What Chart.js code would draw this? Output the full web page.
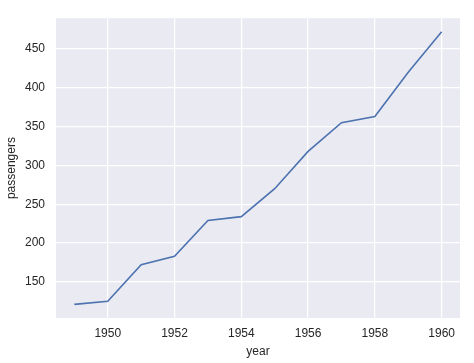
<!DOCTYPE html>
<html>
<head>
<meta charset="utf-8">
<script src="https://cdn.jsdelivr.net/npm/chart.js@4"></script>
<style>
  html, body { margin: 0; padding: 0; background: #fff; }
  #wrap { width: 474px; height: 363px; }
</style>
</head>
<body>
<div id="wrap"><canvas id="flightsChart"></canvas></div>
<script>
// flights dataset, May of each year
const years = [1949, 1950, 1951, 1952, 1953, 1954, 1955, 1956, 1957, 1958, 1959, 1960];
const passengers = [121, 125, 172, 183, 229, 234, 270, 318, 355, 363, 420, 472];
const xTicks = [1950, 1952, 1954, 1956, 1958, 1960];
const yTicks = [150, 200, 250, 300, 350, 400, 450];

const plotBg = {
    id: "plotBg",
    beforeDraw(chart){
        const a = chart.chartArea;
        const ctx = chart.ctx;
        ctx.save();
        ctx.fillStyle = "#EAEAF2";
        ctx.fillRect(a.left, a.top, a.right - a.left, a.bottom - a.top);
        ctx.restore();
    }
};

const font = { family: "'Liberation Sans', Arial, sans-serif", size: 12 };

new Chart(document.getElementById("flightsChart"), {
    type: "line",
    data: {
        datasets: [{
            label: "passengers",
            data: years.map((y, i) => ({ x: y, y: passengers[i] })),
            borderColor: "#4C72B0",
            borderWidth: 1.6,
            pointRadius: 0,
            tension: 0,
            fill: false
        }]
    },
    options: {
        responsive: true,
        maintainAspectRatio: false,
        animation: false,
        layout: { padding: { top: 17, right: 14, left: 0, bottom: 0 } },
        plugins: { legend: { display: false }, tooltip: { enabled: false } },
        scales: {
            x: {
                type: "linear",
                min: 1948.45,
                max: 1960.55,
                afterBuildTicks: s => { s.ticks = xTicks.map(v => ({ value: v })); },
                afterFit: s => { s.height = 45; },
                grid: { color: "#ffffff", lineWidth: 1.2, drawTicks: false },
                border: { display: false },
                ticks: { color: "#262626", font: font, padding: 8, maxRotation: 0,
                         callback: v => String(v) },
                title: { display: true, text: "year", color: "#262626", font: font, padding: { top: 0 } }
            },
            y: {
                min: 103.45,
                max: 489.55,
                afterBuildTicks: s => { s.ticks = yTicks.map(v => ({ value: v })); },
                afterFit: s => { s.width = 56; },
                grid: { color: "#ffffff", lineWidth: 1.2, drawTicks: false },
                border: { display: false },
                ticks: { color: "#262626", font: font, padding: 11 },
                title: { display: true, text: "passengers", color: "#262626", font: font, padding: { bottom: 2 } }
            }
        }
    },
    plugins: [plotBg]
});
</script>
</body>
</html>
